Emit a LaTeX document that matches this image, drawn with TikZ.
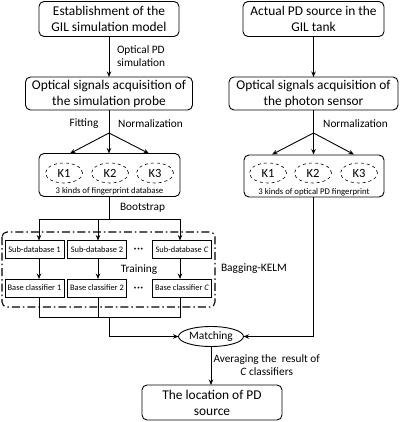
\documentclass[tikz,border=0pt]{standalone}
\usepackage{fontspec}
\setmainfont{Carlito}
\usetikzlibrary{arrows.meta,shapes.geometric,calc}
\begin{document}
\begin{tikzpicture}[x=1pt,y=-1pt,
  every node/.style={inner sep=0pt,outer sep=0pt},
  bigbox/.style={draw,rounded corners=5pt,line width=0.9pt,align=center,font=\fontsize{13.4}{16}\selectfont},
  fpbox/.style={draw,rounded corners=5pt,line width=0.9pt},
  kell/.style={draw,dashed,ellipse,line width=0.6pt,minimum width=37pt,minimum height=20pt,font=\fontsize{12.5}{14}\selectfont},
  smallbox/.style={draw,line width=0.9pt,minimum width=59pt,minimum height=18pt,font=\fontsize{8.4}{10}\selectfont},
  lbl/.style={font=\fontsize{11.3}{13}\selectfont},
  tiny/.style={font=\fontsize{8.7}{10}\selectfont},
  arr/.style={-{Stealth[length=5.5pt,width=4.5pt]},line width=0.9pt},
  ln/.style={line width=0.9pt},
  dotdash/.style={line width=1.1pt,rounded corners=5pt,dash pattern=on 8pt off 3pt on 1.5pt off 3pt}
]
\useasboundingbox (0,0) rectangle (400,422);

% left column
\node[bigbox,minimum width=140pt,minimum height=35pt] (A) at (109,19) {Establishment of the\\GIL simulation model};
\node[bigbox,minimum width=167pt,minimum height=33pt] (B) at (109,93.5) {Optical signals acquisition of\\the simulation probe};
\node[fpbox,minimum width=141pt,minimum height=43pt] (C) at (109.5,175) {};
\node[kell] (ck1) at (64,173) {K1};
\node[kell] (ck2) at (110,173) {K2};
\node[kell] (ck3) at (155,173) {K3};
\node[tiny] (ct) at (109.5,191) {3 kinds of fingerprint database};

% right column
\node[bigbox,minimum width=141pt,minimum height=35pt] (D) at (313.5,19) {Actual PD source in the\\GIL tank};
\node[bigbox,minimum width=169pt,minimum height=33pt] (E) at (313.5,93.5) {Optical signals acquisition of\\the photon sensor};
\node[fpbox,minimum width=140pt,minimum height=42pt] (F) at (314,176) {};
\node[kell] (fk1) at (268,173) {K1};
\node[kell] (fk2) at (313,173) {K2};
\node[kell] (fk3) at (359,173) {K3};
\node[tiny] (ft) at (314,192) {3 kinds of optical PD fingerprint};

% bagging box
\draw[dotdash] (2,232) rectangle (215,307);
\node[smallbox] (s1) at (34.5,249.5) {Sub-database 1};
\node[smallbox] (s2) at (97,249.5) {Sub-database 2};
\node[smallbox] (sc) at (182,249.5) {Sub-database \textit{C}};
\node[smallbox] (b1) at (34.5,288) {Base classifier 1};
\node[smallbox] (b2) at (97,288) {Base classifier 2};
\node[smallbox] (bc) at (182,288) {Base classifier \textit{C}};
\node[font=\fontsize{5}{6}\selectfont] (d1) at (138.5,249.5) {\textbullet\,\textbullet\,\textbullet};
\node[font=\fontsize{5}{6}\selectfont] (d2) at (138.5,288) {\textbullet\,\textbullet\,\textbullet};
\node[lbl] (tr) at (139,270) {Training};
\node[font=\fontsize{11.4}{13}\selectfont,anchor=west] (bk) at (221,269) {Bagging-KELM};

% matching and result
\node[draw,ellipse,line width=0.9pt,minimum width=65pt,minimum height=20pt,font=\fontsize{11.4}{13}\selectfont] (M) at (211,336.5) {Matching};
\node[bigbox,minimum width=140pt,minimum height=35pt] (R) at (212,402.5) {The location of PD\\source};

% labels
\node[lbl,align=left,anchor=west] (l1) at (117,56) {Optical PD\\simulation};
\node[lbl] (l2) at (84,124) {Fitting};
\node[lbl] (l3) at (150.5,124) {Normalization};
\node[lbl] (l4) at (355.5,124) {Normalization};
\node[lbl] (l5) at (142.5,208) {Bootstrap};
\node[lbl,align=center,anchor=west] (l6) at (213.5,365.5) {Averaging the \ result of\\\textit{C} classifiers};

% coordinates
\coordinate (j1) at (109,133);
\coordinate (j2) at (313.5,133);
\coordinate (jb) at (109,219);
\coordinate (jb1) at (39,219);
\coordinate (jb2) at (98,219);
\coordinate (jbc) at (180,219);
\coordinate (jo) at (109,317);
\coordinate (jo1) at (39,317);
\coordinate (jo2) at (98,317);
\coordinate (joc) at (180,317);
\coordinate (jm) at (109,336.5);
\coordinate (jf) at (313.5,336.5);

% connectors left
\draw[arr] (A) -- (B);
\draw[ln] (B.south) -- (j1);
\draw[arr] (j1) -- (70,153.5);
\draw[arr] (j1) -- (109,153.5);
\draw[arr] (j1) -- (149,153.5);
\draw[ln] (C.south -| jb) -- (jb);
\draw[ln] (jb1) -- (jbc);
\draw[arr] (jb1) -- (s1.north -| jb1);
\draw[arr] (jb2) -- (s2.north -| jb2);
\draw[arr] (jbc) -- (sc.north -| jbc);
\draw[arr] (s1.south -| jb1) -- (b1.north -| jb1);
\draw[arr] (s2.south -| jb2) -- (b2.north -| jb2);
\draw[arr] (sc.south -| jbc) -- (bc.north -| jbc);
\draw[ln] (b1.south -| jo1) -- (jo1) -- (joc) -- (bc.south -| joc);
\draw[ln] (b2.south -| jo2) -- (jo2);
\draw[arr] (jo) -- (jm) -- (M.west);

% connectors right
\draw[arr] (D) -- (E);
\draw[ln] (E.south) -- (j2);
\draw[arr] (j2) -- (272,154.5);
\draw[arr] (j2) -- (313.5,154.5);
\draw[arr] (j2) -- (354,154.5);
\draw[arr] (F.south -| jf) -- (jf) -- (M.east);

% final
\draw[arr] (M.south) -- (M.south |- R.north);
\end{tikzpicture}
\end{document}
